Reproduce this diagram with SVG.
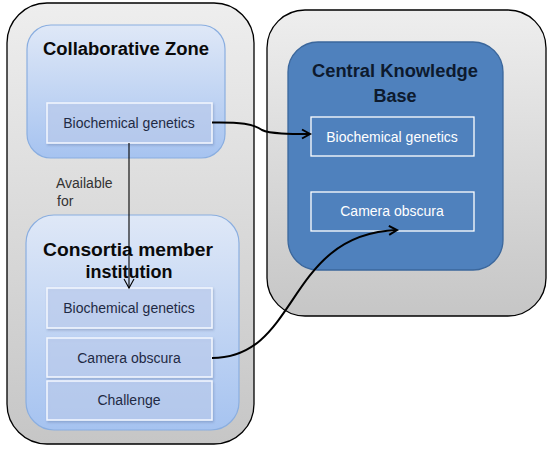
<svg xmlns="http://www.w3.org/2000/svg" width="550" height="451" viewBox="0 0 550 451">
<style>
.outer{stroke:#000;stroke-width:1.3;fill:url(#gGrey)}
.blue{fill:url(#gBlue);stroke:#8aaee0;stroke-width:1.2}
.item{fill:#c4d6f5;fill-opacity:0.55;stroke:#f4f8ff;stroke-width:1.5;filter:url(#sh)}
.ckbItem{fill:none;stroke:#ffffff;stroke-width:1.3}
.title{font-family:"Liberation Sans",Arial,sans-serif;font-weight:bold;font-size:18px;fill:#0a0a0a;text-anchor:middle}
.label{font-family:"Liberation Sans",Arial,sans-serif;font-size:14px;fill:#1f2a44;text-anchor:middle}
.wlabel{font-family:"Liberation Sans",Arial,sans-serif;font-size:14px;fill:#ffffff;text-anchor:middle}
.note{font-family:"Liberation Sans",Arial,sans-serif;font-size:14px;fill:#333333}
.conn{fill:none;stroke:#000;stroke-width:2}
.thin{fill:none;stroke:#000;stroke-width:1.1}
</style>
<defs>
<linearGradient id="gGrey" x1="0" y1="0" x2="0" y2="1">
<stop offset="0" stop-color="#eeeeee"/>
<stop offset="1" stop-color="#c6c6c6"/>
</linearGradient>
<linearGradient id="gBlue" x1="0" y1="0" x2="0" y2="1">
<stop offset="0" stop-color="#dfe8f7"/>
<stop offset="1" stop-color="#a6c3f0"/>
</linearGradient>
<filter id="sh" x="-10%" y="-10%" width="130%" height="140%">
<feDropShadow dx="1" dy="1.5" stdDeviation="1" flood-color="#3a5080" flood-opacity="0.35"/>
</filter>
<marker id="arr" markerUnits="userSpaceOnUse" markerWidth="14" markerHeight="14" refX="11" refY="7" orient="auto">
<path d="M3,2.5 L11,7 L3,11.5" fill="none" stroke="#000" stroke-width="2"/>
</marker>
<marker id="arrThin" markerUnits="userSpaceOnUse" markerWidth="14" markerHeight="14" refX="11" refY="7" orient="auto">
<path d="M2,2 L11,7 L2,12" fill="none" stroke="#000" stroke-width="1.1"/>
</marker>
</defs>

<g id="left-container">
<rect class="outer" x="7" y="3" width="247" height="441" rx="40"/>
<text class="note" x="56" y="188">Available</text>
<text class="note" x="57" y="206">for</text>
</g>

<g id="right-container">
<rect class="outer" x="267" y="10" width="279" height="306" rx="38"/>
</g>

<g id="collaborative-zone">
<rect class="blue" x="27" y="25" width="198" height="133" rx="24"/>
<text class="title" x="126" y="55" textLength="166" lengthAdjust="spacingAndGlyphs">Collaborative Zone</text>
</g>
<g id="cz-biochemical">
<rect class="item" x="47" y="103" width="165" height="40"/>
<text class="label" x="129" y="128">Biochemical genetics</text>
</g>

<g id="consortia">
<rect class="blue" x="26" y="215" width="213" height="215" rx="28"/>
<text class="title" x="128" y="256" textLength="170" lengthAdjust="spacingAndGlyphs">Consortia member</text>
<text class="title" x="129" y="278">institution</text>
</g>
<g id="cmi-biochemical">
<rect class="item" x="47" y="288" width="165" height="40"/>
<text class="label" x="129" y="313">Biochemical genetics</text>
</g>
<g id="cmi-camera">
<rect class="item" x="47" y="338" width="165" height="39"/>
<text class="label" x="129" y="363">Camera obscura</text>
</g>
<g id="cmi-challenge">
<rect class="item" x="47" y="381" width="165" height="39"/>
<text class="label" x="129" y="405">Challenge</text>
</g>

<g id="ckb">
<rect x="288" y="42" width="215" height="228" rx="30" fill="#4f81bd" stroke="#3b679c" stroke-width="1.3"/>
<text class="title" x="395" y="77" style="fill:#0d1a2e" textLength="166" lengthAdjust="spacingAndGlyphs">Central Knowledge</text>
<text class="title" x="395" y="102" style="fill:#0d1a2e">Base</text>
</g>
<g id="ckb-biochemical">
<rect class="ckbItem" x="311" y="117" width="163" height="39"/>
<text class="wlabel" x="392" y="142">Biochemical genetics</text>
</g>
<g id="ckb-camera">
<rect class="ckbItem" x="311" y="192" width="163" height="39"/>
<text class="wlabel" x="392" y="216">Camera obscura</text>
</g>

<g id="connectors">
<path class="thin" d="M129,143 L129,288" marker-end="url(#arrThin)"/>
<path class="conn" d="M212,122.5 C240,122 254,124 262,130 C270,134 290,134 310,134" marker-end="url(#arr)"/>
<path class="conn" d="M212,358 C300,358 285,234 397,230" marker-end="url(#arr)"/>
</g>
</svg>
